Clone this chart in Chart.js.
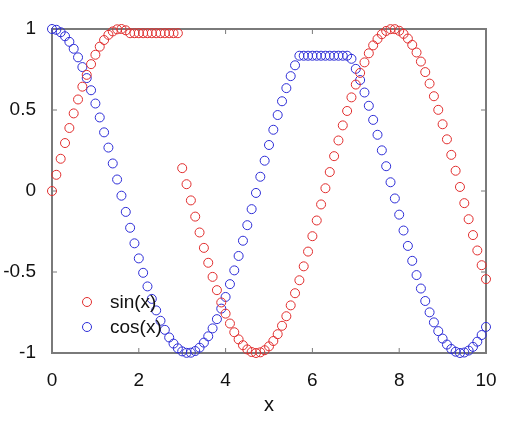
<!DOCTYPE html>
<html>
<head>
<meta charset="utf-8">
<script src="https://cdn.jsdelivr.net/npm/chart.js@4.4.1/dist/chart.umd.min.js"></script>
<style>
  body { margin: 0; background: #fff; }
  #wrap { width: 522px; height: 435px; }
</style>
</head>
<body>
<div id="wrap"><canvas id="plot"></canvas></div>
<script>
const xs = [
  0, 0.1, 0.2, 0.3, 0.4, 0.5, 0.6, 0.7, 0.8, 0.9,
  1, 1.1, 1.2, 1.3, 1.4, 1.5, 1.6, 1.7, 1.8, 1.9,
  2, 2.1, 2.2, 2.3, 2.4, 2.5, 2.6, 2.7, 2.8, 2.9,
  3, 3.1, 3.2, 3.3, 3.4, 3.5, 3.6, 3.7, 3.8, 3.9,
  4, 4.1, 4.2, 4.3, 4.4, 4.5, 4.6, 4.7, 4.8, 4.9,
  5, 5.1, 5.2, 5.3, 5.4, 5.5, 5.6, 5.7, 5.8, 5.9,
  6, 6.1, 6.2, 6.3, 6.4, 6.5, 6.6, 6.7, 6.8, 6.9,
  7, 7.1, 7.2, 7.3, 7.4, 7.5, 7.6, 7.7, 7.8, 7.9,
  8, 8.1, 8.2, 8.3, 8.4, 8.5, 8.6, 8.7, 8.8, 8.9,
  9, 9.1, 9.2, 9.3, 9.4, 9.5, 9.6, 9.7, 9.8, 9.9,
  10
];

const sinY = [
  0, 0.100, 0.199, 0.296, 0.389, 0.479, 0.565, 0.644, 0.717, 0.783,
  0.841, 0.891, 0.932, 0.964, 0.985, 0.998, 1.000, 0.992, 0.974, 0.974,
  0.974, 0.974, 0.974, 0.974, 0.974, 0.974, 0.974, 0.974, 0.974, 0.974,
  0.141, 0.042, -0.058, -0.158, -0.256, -0.351, -0.443, -0.530, -0.612, -0.688,
  -0.757, -0.818, -0.872, -0.916, -0.952, -0.978, -0.994, -1.000, -0.996, -0.983,
  -0.959, -0.926, -0.884, -0.832, -0.773, -0.706, -0.631, -0.551, -0.465, -0.374,
  -0.279, -0.182, -0.083, 0.017, 0.117, 0.215, 0.312, 0.405, 0.494, 0.578,
  0.657, 0.729, 0.794, 0.850, 0.899, 0.938, 0.968, 0.988, 0.999, 0.999,
  0.989, 0.970, 0.941, 0.902, 0.855, 0.799, 0.734, 0.663, 0.585, 0.501,
  0.412, 0.319, 0.223, 0.125, 0.025, -0.075, -0.174, -0.272, -0.367, -0.458,
  -0.544
];

const cosY = [
  1.000, 0.995, 0.980, 0.955, 0.921, 0.878, 0.825, 0.765, 0.697, 0.622,
  0.540, 0.454, 0.362, 0.268, 0.170, 0.071, -0.029, -0.129, -0.227, -0.323,
  -0.416, -0.505, -0.589, -0.666, -0.737, -0.801, -0.857, -0.904, -0.942, -0.971,
  -0.990, -0.999, -0.998, -0.988, -0.967, -0.936, -0.897, -0.848, -0.791, -0.726,
  -0.654, -0.575, -0.490, -0.401, -0.307, -0.211, -0.112, -0.012, 0.088, 0.187,
  0.284, 0.378, 0.469, 0.554, 0.635, 0.709, 0.776, 0.835, 0.835, 0.835,
  0.835, 0.835, 0.835, 0.835, 0.835, 0.835, 0.835, 0.835, 0.835, 0.816,
  0.754, 0.685, 0.608, 0.526, 0.439, 0.347, 0.251, 0.153, 0.054, -0.046,
  -0.146, -0.244, -0.339, -0.431, -0.519, -0.602, -0.679, -0.749, -0.811, -0.865,
  -0.911, -0.948, -0.975, -0.992, -1.000, -0.997, -0.985, -0.962, -0.930, -0.889,
  -0.839
];

const seriesNames = ['sin(x)', 'cos(x)'];
const xTicks = [0, 2, 4, 6, 8, 10];
const yTicks = [-1, -0.5, 0, 0.5, 1];

const red = 'rgb(225, 45, 45)';
const blue = 'rgb(45, 45, 215)';
const fontFam = '"Liberation Sans", Arial, sans-serif';

// box around plot with inward ticks, matlab style
const boxPlugin = {
  id: 'box',
  beforeDatasetsDraw(chart) {
    const { ctx, chartArea: a, scales } = chart;
    ctx.save();
    ctx.strokeStyle = '#7a7a7a';
    ctx.lineWidth = 2;
    ctx.strokeRect(a.left, a.top, a.right - a.left, a.bottom - a.top);
    ctx.lineWidth = 1;
    ctx.beginPath();
    xTicks.forEach(v => {
      const px = scales.x.getPixelForValue(v);
      ctx.moveTo(px, a.bottom); ctx.lineTo(px, a.bottom - 5);
      ctx.moveTo(px, a.top); ctx.lineTo(px, a.top + 5);
    });
    yTicks.forEach(v => {
      const py = scales.y.getPixelForValue(v);
      ctx.moveTo(a.left, py); ctx.lineTo(a.left + 5, py);
      ctx.moveTo(a.right, py); ctx.lineTo(a.right - 5, py);
    });
    ctx.stroke();
    ctx.restore();
  },
  afterDatasetsDraw(chart) {
    // legend inside the axes, lower left
    const { ctx, chartArea: a } = chart;
    ctx.save();
    ctx.font = '19px ' + fontFam;
    ctx.textBaseline = 'middle';
    chart.data.datasets.forEach((ds, i) => {
      const y = a.bottom - 51 + i * 25;
      ctx.beginPath();
      ctx.strokeStyle = ds.borderColor;
      ctx.lineWidth = 1;
      ctx.arc(a.left + 35, y, 4.5, 0, Math.PI * 2);
      ctx.stroke();
      ctx.fillStyle = '#111';
      ctx.fillText(ds.label, a.left + 58, y + 1);
    });
    ctx.restore();
  }
};

new Chart(document.getElementById('plot'), {
  type: 'scatter',
  data: {
    datasets: [
      {
        label: seriesNames[0],
        data: xs.map((x, i) => ({ x: x, y: sinY[i] })),
        borderColor: red,
        backgroundColor: 'rgba(0,0,0,0)',
        pointRadius: 4.5,
        borderWidth: 1,
        clip: false
      },
      {
        label: seriesNames[1],
        data: xs.map((x, i) => ({ x: x, y: cosY[i] })),
        borderColor: blue,
        backgroundColor: 'rgba(0,0,0,0)',
        pointRadius: 4.5,
        borderWidth: 1,
        clip: false
      }
    ]
  },
  options: {
    responsive: true,
    maintainAspectRatio: false,
    animation: false,
    layout: { padding: { left: 0, right: 36, top: 29, bottom: 0 } },
    plugins: {
      legend: { display: false },
      tooltip: { enabled: false }
    },
    scales: {
      x: {
        type: 'linear',
        min: 0,
        max: 10,
        grid: { display: false },
        border: { display: false },
        afterBuildTicks: s => { s.ticks = xTicks.map(v => ({ value: v })); },
        afterFit: s => { s.height = 82; },
        ticks: {
          padding: 8,
          color: '#111',
          callback: v => String(v),
          font: { size: 19, family: fontFam }
        },
        title: {
          display: true,
          text: 'x',
          color: '#111',
          padding: { top: 4, bottom: 18 },
          font: { size: 20, family: fontFam }
        }
      },
      y: {
        min: -1,
        max: 1,
        grid: { display: false },
        border: { display: false },
        afterBuildTicks: s => { s.ticks = yTicks.map(v => ({ value: v })); },
        afterFit: s => { s.width = 52; },
        ticks: {
          padding: 8,
          color: '#111',
          callback: v => String(v),
          font: { size: 19, family: fontFam }
        }
      }
    }
  },
  plugins: [boxPlugin]
});
</script>
</body>
</html>
